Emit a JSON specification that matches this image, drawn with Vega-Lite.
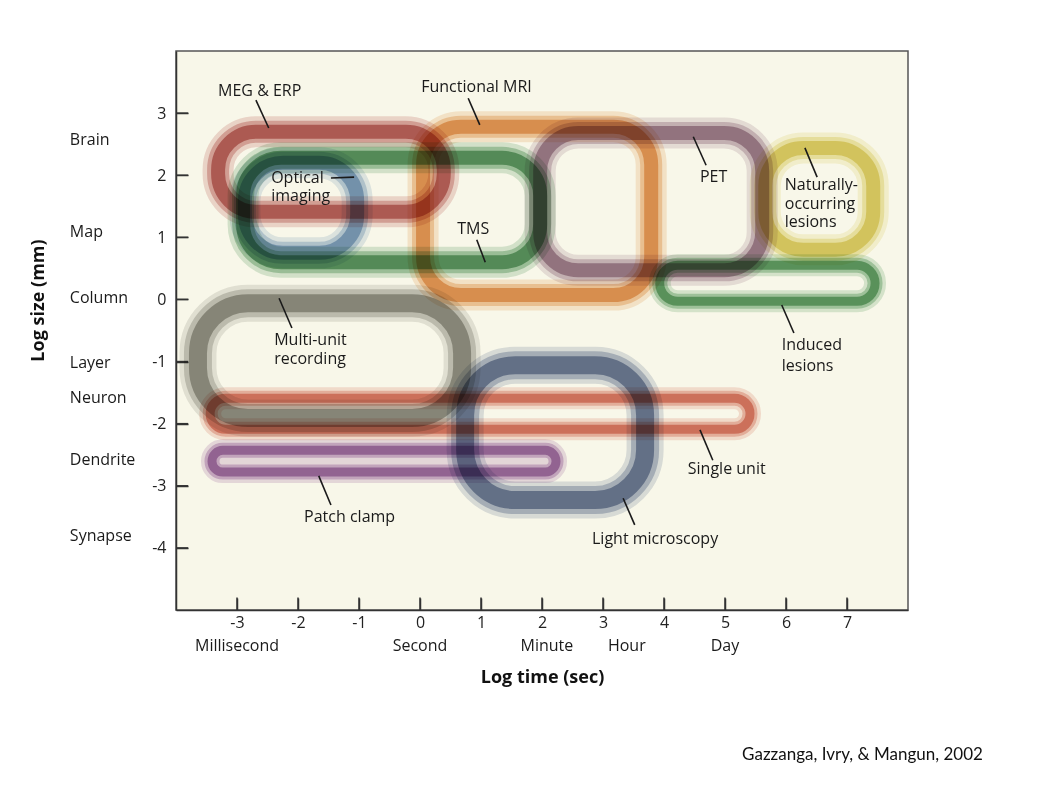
{
  "$schema": "https://vega.github.io/schema/vega-lite/v6.json",
  "width": 732,
  "height": 559,
  "autosize": {"type": "none"},
  "padding": {"left": 176, "top": 51, "right": 138, "bottom": 178},
  "background": "white",
  "config": {
    "view": {"fill": "#f8f7e9", "stroke": "#555", "strokeWidth": 1.5},
    "font": "Open Sans",
    "axis": {
      "labelFont": "Open Sans", "labelFontSize": 16, "labelColor": "#222",
      "titleFont": "Open Sans", "titleFontWeight": "bold", "titleFontSize": 18, "titleColor": "#111",
      "tickColor": "#333", "tickWidth": 1.5, "domainColor": "#333", "domainWidth": 1.5, "grid": false
    }
  },
  "datasets": {
    "boxes": [
      {"name": "MEG & ERP", "x1": -3.31, "x2": 0.39, "y1": 2.70, "y2": 1.41},
      {"name": "TMS", "x1": -2.90, "x2": 1.97, "y1": 2.28, "y2": 0.60},
      {"name": "Optical imaging", "x1": -2.87, "x2": -1.03, "y1": 2.20, "y2": 0.75},
      {"name": "Functional MRI", "x1": 0.05, "x2": 3.79, "y1": 2.78, "y2": 0.07},
      {"name": "PET", "x1": 1.97, "x2": 5.61, "y1": 2.68, "y2": 0.47},
      {"name": "Naturally-occurring lesions", "x1": 5.66, "x2": 7.43, "y1": 2.44, "y2": 0.80},
      {"name": "Induced lesions", "x1": 3.93, "x2": 7.46, "y1": 0.55, "y2": -0.03},
      {"name": "Multi-unit recording", "x1": -3.64, "x2": 0.69, "y1": -0.06, "y2": -1.91},
      {"name": "Single unit", "x1": -3.44, "x2": 5.41, "y1": -1.59, "y2": -2.09},
      {"name": "Patch clamp", "x1": -3.41, "x2": 2.23, "y1": -2.43, "y2": -2.78},
      {"name": "Light microscopy", "x1": 0.74, "x2": 3.69, "y1": -1.06, "y2": -3.23}
    ],
    "labels": [
      {"text": "MEG & ERP", "x": -3.31, "y": 3.36},
      {"text": "Functional MRI", "x": 0.02, "y": 3.42},
      {"text": "Optical", "x": -2.44, "y": 1.95},
      {"text": "imaging", "x": -2.44, "y": 1.66},
      {"text": "TMS", "x": 0.61, "y": 1.13},
      {"text": "PET", "x": 4.59, "y": 1.97},
      {"text": "Naturally-", "x": 5.98, "y": 1.84},
      {"text": "occurring", "x": 5.98, "y": 1.54},
      {"text": "lesions", "x": 5.98, "y": 1.25},
      {"text": "Induced", "x": 5.93, "y": -0.73},
      {"text": "lesions", "x": 5.93, "y": -1.07},
      {"text": "Multi-unit", "x": -2.39, "y": -0.65},
      {"text": "recording", "x": -2.39, "y": -0.96},
      {"text": "Single unit", "x": 4.39, "y": -2.73},
      {"text": "Patch clamp", "x": -1.90, "y": -3.50},
      {"text": "Light microscopy", "x": 2.82, "y": -3.86},
      {"text": "Brain", "x": -5.74, "y": 2.57},
      {"text": "Map", "x": -5.74, "y": 1.09},
      {"text": "Column", "x": -5.74, "y": 0.02},
      {"text": "Layer", "x": -5.74, "y": -1.03},
      {"text": "Neuron", "x": -5.74, "y": -1.59},
      {"text": "Dendrite", "x": -5.74, "y": -2.59},
      {"text": "Synapse", "x": -5.74, "y": -3.81}
    ],
    "timecats": [
      {"text": "Millisecond", "x": -3.0, "y": -5.58},
      {"text": "Second", "x": 0.0, "y": -5.58},
      {"text": "Minute", "x": 2.08, "y": -5.58},
      {"text": "Hour", "x": 3.39, "y": -5.58},
      {"text": "Day", "x": 5.0, "y": -5.58}
    ],
    "credit": [
      {"text": "Gazzanga, Ivry, & Mangun, 2002", "x": 5.28, "y": -7.34}
    ],
    "xticks": [
      {"v": -3}, {"v": -2}, {"v": -1}, {"v": 0}, {"v": 1}, {"v": 2}, {"v": 3}, {"v": 4}, {"v": 5}, {"v": 6}, {"v": 7}
    ],
    "yticks": [
      {"v": -4}, {"v": -3}, {"v": -2}, {"v": -1}, {"v": 0}, {"v": 1}, {"v": 2}, {"v": 3}
    ],
    "leaders": [
      {"x": -2.69, "y": 3.21, "x2": -2.48, "y2": 2.76},
      {"x": 0.79, "y": 3.24, "x2": 0.98, "y2": 2.81},
      {"x": -1.46, "y": 1.955, "x2": -1.08, "y2": 1.97},
      {"x": 0.93, "y": 0.96, "x2": 1.07, "y2": 0.60},
      {"x": 4.48, "y": 2.62, "x2": 4.69, "y2": 2.16},
      {"x": 6.31, "y": 2.44, "x2": 6.51, "y2": 1.97},
      {"x": 5.93, "y": -0.09, "x2": 6.13, "y2": -0.54},
      {"x": -2.31, "y": 0.02, "x2": -2.10, "y2": -0.46},
      {"x": 4.59, "y": -2.10, "x2": 4.80, "y2": -2.59},
      {"x": -1.66, "y": -2.84, "x2": -1.46, "y2": -3.31},
      {"x": 3.33, "y": -3.20, "x2": 3.52, "y2": -3.63}
    ]
  },
  "layer": [
    {
      "data": {"name": "leaders"},
      "mark": {"type": "rule", "opacity": 0},
      "encoding": {
        "x": {"field": "x", "type": "quantitative", "scale": {"domain": [-4, 8], "nice": false, "zero": false},
              "axis": {"values": [-3, -2, -1, 0, 1, 2, 3, 4, 5, 6, 7], "labelExpr": "'' + datum.value", "tickSize": -12, "labelPadding": 16, "title": "Log time (sec)", "titleY": 67, "titleBaseline": "middle"}},
        "y": {"field": "y", "type": "quantitative", "scale": {"domain": [-5, 4], "nice": false, "zero": false},
              "axis": {"values": [-4, -3, -2, -1, 0, 1, 2, 3], "labelExpr": "'' + datum.value", "tickSize": -12, "labelPadding": 22, "title": "Log size (mm)", "titleX": -138, "titleY": 249, "titleAlign": "center", "titleBaseline": "middle", "titleAngle": -90}}
      }
    },
    {
      "data": {"name": "xticks"},
      "mark": {"type": "rule", "color": "#333", "strokeWidth": 1.5},
      "encoding": {
        "x": {"field": "v", "type": "quantitative"},
        "y": {"datum": -5},
        "y2": {"datum": -4.8}
      }
    },
    {
      "data": {"name": "yticks"},
      "mark": {"type": "rule", "color": "#333", "strokeWidth": 1.5},
      "encoding": {
        "y": {"field": "v", "type": "quantitative"},
        "x": {"datum": -4},
        "x2": {"datum": -3.8}
      }
    },
    {
      "data": {"name": "boxes"},
      "transform": [{"filter": {"field": "name", "oneOf": ["MEG & ERP", "TMS", "Optical imaging", "Functional MRI", "PET", "Naturally-occurring lesions"]}}],
      "mark": {"type": "rect", "filled": false, "cornerRadius": 38, "strokeWidth": 31, "strokeOpacity": 0.2, "blend": "multiply"},
      "encoding": {
        "x": {"field": "x1", "type": "quantitative"}, "x2": {"field": "x2"},
        "y": {"field": "y1", "type": "quantitative"}, "y2": {"field": "y2"},
        "stroke": {"field": "name", "type": "nominal", "legend": null, "scale": {"domain": ["MEG & ERP", "TMS", "Optical imaging", "Functional MRI", "PET", "Naturally-occurring lesions", "Induced lesions", "Multi-unit recording", "Single unit", "Patch clamp", "Light microscopy"], "range": ["#b44842", "#3c8c4b", "#6e96be", "#e1913c", "#966e87", "#dccd55", "#469650", "#87877d", "#d76950", "#9655a0", "#556991"]}}
      }
    },
    {
      "data": {"name": "boxes"},
      "transform": [{"filter": {"field": "name", "oneOf": ["MEG & ERP", "TMS", "Optical imaging", "Functional MRI", "PET", "Naturally-occurring lesions"]}}],
      "mark": {"type": "rect", "filled": false, "cornerRadius": 38, "strokeWidth": 22, "strokeOpacity": 0.35, "blend": "multiply"},
      "encoding": {
        "x": {"field": "x1", "type": "quantitative"}, "x2": {"field": "x2"},
        "y": {"field": "y1", "type": "quantitative"}, "y2": {"field": "y2"},
        "stroke": {"field": "name", "type": "nominal", "legend": null, "scale": {"domain": ["MEG & ERP", "TMS", "Optical imaging", "Functional MRI", "PET", "Naturally-occurring lesions", "Induced lesions", "Multi-unit recording", "Single unit", "Patch clamp", "Light microscopy"], "range": ["#b44842", "#3c8c4b", "#6e96be", "#e1913c", "#966e87", "#dccd55", "#469650", "#87877d", "#d76950", "#9655a0", "#556991"]}}
      }
    },
    {
      "data": {"name": "boxes"},
      "transform": [{"filter": {"field": "name", "oneOf": ["MEG & ERP", "TMS", "Optical imaging", "Functional MRI", "PET", "Naturally-occurring lesions"]}}],
      "mark": {"type": "rect", "filled": false, "cornerRadius": 38, "strokeWidth": 14, "strokeOpacity": 0.6, "blend": "multiply"},
      "encoding": {
        "x": {"field": "x1", "type": "quantitative"}, "x2": {"field": "x2"},
        "y": {"field": "y1", "type": "quantitative"}, "y2": {"field": "y2"},
        "stroke": {"field": "name", "type": "nominal", "legend": null, "scale": {"domain": ["MEG & ERP", "TMS", "Optical imaging", "Functional MRI", "PET", "Naturally-occurring lesions", "Induced lesions", "Multi-unit recording", "Single unit", "Patch clamp", "Light microscopy"], "range": ["#b44842", "#3c8c4b", "#6e96be", "#e1913c", "#966e87", "#dccd55", "#469650", "#87877d", "#d76950", "#9655a0", "#556991"]}}
      }
    },
    {
      "data": {"name": "boxes"},
      "transform": [{"filter": {"field": "name", "oneOf": ["Multi-unit recording", "Light microscopy"]}}],
      "mark": {"type": "rect", "filled": false, "cornerRadius": 50, "strokeWidth": 37, "strokeOpacity": 0.2, "blend": "multiply"},
      "encoding": {
        "x": {"field": "x1", "type": "quantitative"}, "x2": {"field": "x2"},
        "y": {"field": "y1", "type": "quantitative"}, "y2": {"field": "y2"},
        "stroke": {"field": "name", "type": "nominal", "legend": null, "scale": {"domain": ["MEG & ERP", "TMS", "Optical imaging", "Functional MRI", "PET", "Naturally-occurring lesions", "Induced lesions", "Multi-unit recording", "Single unit", "Patch clamp", "Light microscopy"], "range": ["#b44842", "#3c8c4b", "#6e96be", "#e1913c", "#966e87", "#dccd55", "#469650", "#87877d", "#d76950", "#9655a0", "#556991"]}}
      }
    },
    {
      "data": {"name": "boxes"},
      "transform": [{"filter": {"field": "name", "oneOf": ["Multi-unit recording", "Light microscopy"]}}],
      "mark": {"type": "rect", "filled": false, "cornerRadius": 50, "strokeWidth": 28, "strokeOpacity": 0.35, "blend": "multiply"},
      "encoding": {
        "x": {"field": "x1", "type": "quantitative"}, "x2": {"field": "x2"},
        "y": {"field": "y1", "type": "quantitative"}, "y2": {"field": "y2"},
        "stroke": {"field": "name", "type": "nominal", "legend": null, "scale": {"domain": ["MEG & ERP", "TMS", "Optical imaging", "Functional MRI", "PET", "Naturally-occurring lesions", "Induced lesions", "Multi-unit recording", "Single unit", "Patch clamp", "Light microscopy"], "range": ["#b44842", "#3c8c4b", "#6e96be", "#e1913c", "#966e87", "#dccd55", "#469650", "#87877d", "#d76950", "#9655a0", "#556991"]}}
      }
    },
    {
      "data": {"name": "boxes"},
      "transform": [{"filter": {"field": "name", "oneOf": ["Multi-unit recording", "Light microscopy"]}}],
      "mark": {"type": "rect", "filled": false, "cornerRadius": 50, "strokeWidth": 18, "strokeOpacity": 0.6, "blend": "multiply"},
      "encoding": {
        "x": {"field": "x1", "type": "quantitative"}, "x2": {"field": "x2"},
        "y": {"field": "y1", "type": "quantitative"}, "y2": {"field": "y2"},
        "stroke": {"field": "name", "type": "nominal", "legend": null, "scale": {"domain": ["MEG & ERP", "TMS", "Optical imaging", "Functional MRI", "PET", "Naturally-occurring lesions", "Induced lesions", "Multi-unit recording", "Single unit", "Patch clamp", "Light microscopy"], "range": ["#b44842", "#3c8c4b", "#6e96be", "#e1913c", "#966e87", "#dccd55", "#469650", "#87877d", "#d76950", "#9655a0", "#556991"]}}
      }
    },
    {
      "data": {"name": "boxes"},
      "transform": [{"filter": {"field": "name", "oneOf": ["Induced lesions", "Single unit", "Patch clamp"]}}],
      "mark": {"type": "rect", "filled": false, "cornerRadius": 999, "strokeWidth": 22, "strokeOpacity": 0.2, "blend": "multiply"},
      "encoding": {
        "x": {"field": "x1", "type": "quantitative"}, "x2": {"field": "x2"},
        "y": {"field": "y1", "type": "quantitative"}, "y2": {"field": "y2"},
        "stroke": {"field": "name", "type": "nominal", "legend": null, "scale": {"domain": ["MEG & ERP", "TMS", "Optical imaging", "Functional MRI", "PET", "Naturally-occurring lesions", "Induced lesions", "Multi-unit recording", "Single unit", "Patch clamp", "Light microscopy"], "range": ["#b44842", "#3c8c4b", "#6e96be", "#e1913c", "#966e87", "#dccd55", "#469650", "#87877d", "#d76950", "#9655a0", "#556991"]}}
      }
    },
    {
      "data": {"name": "boxes"},
      "transform": [{"filter": {"field": "name", "oneOf": ["Induced lesions", "Single unit", "Patch clamp"]}}],
      "mark": {"type": "rect", "filled": false, "cornerRadius": 999, "strokeWidth": 15, "strokeOpacity": 0.35, "blend": "multiply"},
      "encoding": {
        "x": {"field": "x1", "type": "quantitative"}, "x2": {"field": "x2"},
        "y": {"field": "y1", "type": "quantitative"}, "y2": {"field": "y2"},
        "stroke": {"field": "name", "type": "nominal", "legend": null, "scale": {"domain": ["MEG & ERP", "TMS", "Optical imaging", "Functional MRI", "PET", "Naturally-occurring lesions", "Induced lesions", "Multi-unit recording", "Single unit", "Patch clamp", "Light microscopy"], "range": ["#b44842", "#3c8c4b", "#6e96be", "#e1913c", "#966e87", "#dccd55", "#469650", "#87877d", "#d76950", "#9655a0", "#556991"]}}
      }
    },
    {
      "data": {"name": "boxes"},
      "transform": [{"filter": {"field": "name", "oneOf": ["Induced lesions", "Single unit", "Patch clamp"]}}],
      "mark": {"type": "rect", "filled": false, "cornerRadius": 999, "strokeWidth": 9, "strokeOpacity": 0.6, "blend": "multiply"},
      "encoding": {
        "x": {"field": "x1", "type": "quantitative"}, "x2": {"field": "x2"},
        "y": {"field": "y1", "type": "quantitative"}, "y2": {"field": "y2"},
        "stroke": {"field": "name", "type": "nominal", "legend": null, "scale": {"domain": ["MEG & ERP", "TMS", "Optical imaging", "Functional MRI", "PET", "Naturally-occurring lesions", "Induced lesions", "Multi-unit recording", "Single unit", "Patch clamp", "Light microscopy"], "range": ["#b44842", "#3c8c4b", "#6e96be", "#e1913c", "#966e87", "#dccd55", "#469650", "#87877d", "#d76950", "#9655a0", "#556991"]}}
      }
    },
    {
      "data": {"name": "leaders"},
      "mark": {"type": "rule", "color": "#1a1a1a", "strokeWidth": 1.6},
      "encoding": {
        "x": {"field": "x", "type": "quantitative"}, "x2": {"field": "x2"},
        "y": {"field": "y", "type": "quantitative"}, "y2": {"field": "y2"}
      }
    },
    {
      "data": {"name": "labels"},
      "mark": {"type": "text", "align": "left", "baseline": "middle", "font": "Open Sans", "fontSize": 16, "color": "#1a1a1a"},
      "encoding": {
        "x": {"field": "x", "type": "quantitative"},
        "y": {"field": "y", "type": "quantitative"},
        "text": {"field": "text"}
      }
    },
    {
      "data": {"name": "timecats"},
      "mark": {"type": "text", "align": "center", "baseline": "middle", "font": "Open Sans", "fontSize": 16, "color": "#1a1a1a"},
      "encoding": {
        "x": {"field": "x", "type": "quantitative"},
        "y": {"field": "y", "type": "quantitative"},
        "text": {"field": "text"}
      }
    },
    {
      "data": {"name": "credit"},
      "mark": {"type": "text", "align": "left", "baseline": "middle", "font": "Lato", "fontSize": 17, "color": "#111"},
      "encoding": {
        "x": {"field": "x", "type": "quantitative"},
        "y": {"field": "y", "type": "quantitative"},
        "text": {"field": "text"}
      }
    }
  ]
}
